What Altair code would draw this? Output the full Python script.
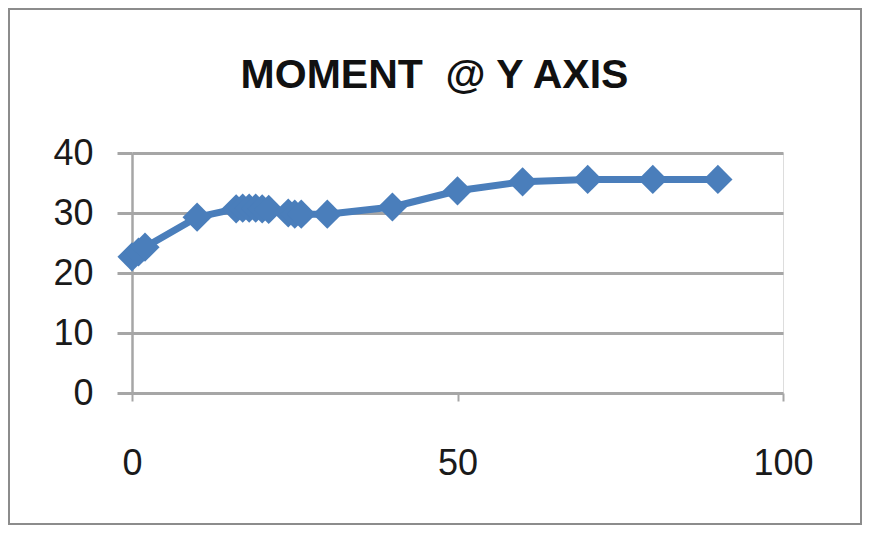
import altair as alt
import pandas as pd

# Data
x_vals = [0, 1, 2, 10, 16, 17, 18, 19, 20, 21, 24, 25, 26, 30, 40, 50, 60, 70, 80, 90]
y_vals = [22.7, 23.5, 24.3, 29.3, 30.7, 30.8, 30.8, 30.8, 30.7, 30.6, 30.0, 29.8, 29.8,
          29.8, 31.0, 33.7, 35.2, 35.6, 35.6, 35.6]
x_ticks = [0, 50, 100]
y_ticks = [0, 10, 20, 30, 40]
title_text = "MOMENT \u00a0@ Y AXIS"

df = pd.DataFrame({"x": x_vals, "y": y_vals})

W, H = 651, 240
PL, PT, PR, PB = 124, 145, 79, 132

grid_col = "#a6a6a6"
line_col = "#4a7ebb"
font = "Liberation Sans"

x_enc = alt.X("x:Q", scale=alt.Scale(domain=[0, 100], nice=False),
              axis=alt.Axis(values=x_ticks, title=None, grid=False, domain=False,
                            ticks=True, tickSize=8, tickColor=grid_col, tickWidth=2,
                            labelFont=font, labelFontSize=36, labelColor="#1a1a1a",
                            labelPadding=45, labelFlush=False))
y_enc = alt.Y("y:Q", scale=alt.Scale(domain=[0, 40], nice=False),
              axis=alt.Axis(values=y_ticks, title=None, grid=True, gridColor=grid_col,
                            gridWidth=3, domain=True, domainColor=grid_col, domainWidth=2.5,
                            ticks=True, tickSize=15, tickColor=grid_col, tickWidth=3,
                            labelFont=font, labelFontSize=36, labelColor="#1a1a1a",
                            labelPadding=24))

line = alt.Chart(df).mark_line(color=line_col, strokeWidth=7).encode(x=x_enc, y=y_enc)
pts = alt.Chart(df).mark_point(shape="diamond", filled=True, size=850, opacity=1,
                               color=line_col).encode(x="x:Q", y="y:Q")

border = alt.Chart(alt.Data(values=[{"a": 1}])).mark_rect(
    fill=None, stroke="#8c8c8c", strokeWidth=2
).encode(x=alt.value(-PL + 1), x2=alt.value(W + PR - 1),
         y=alt.value(-PT + 1), y2=alt.value(H + PB - 1))

title = alt.Chart(alt.Data(values=[{"t": title_text}])).mark_text(
    font=font, fontSize=41, fontWeight="bold", color="#111111",
    align="center", baseline="alphabetic"
).encode(text="t:N", x=alt.value(W / 2 - 23), y=alt.value(-65))

chart = alt.layer(border, line, pts, title).properties(
    width=W, height=H,
    autosize=alt.AutoSizeParams(type="none"),
    padding={"left": PL, "top": PT, "right": PR, "bottom": PB},
).configure_view(stroke=None).configure(background="white")

chart.save("out.html", embed_options={"renderer": "svg", "actions": False})
